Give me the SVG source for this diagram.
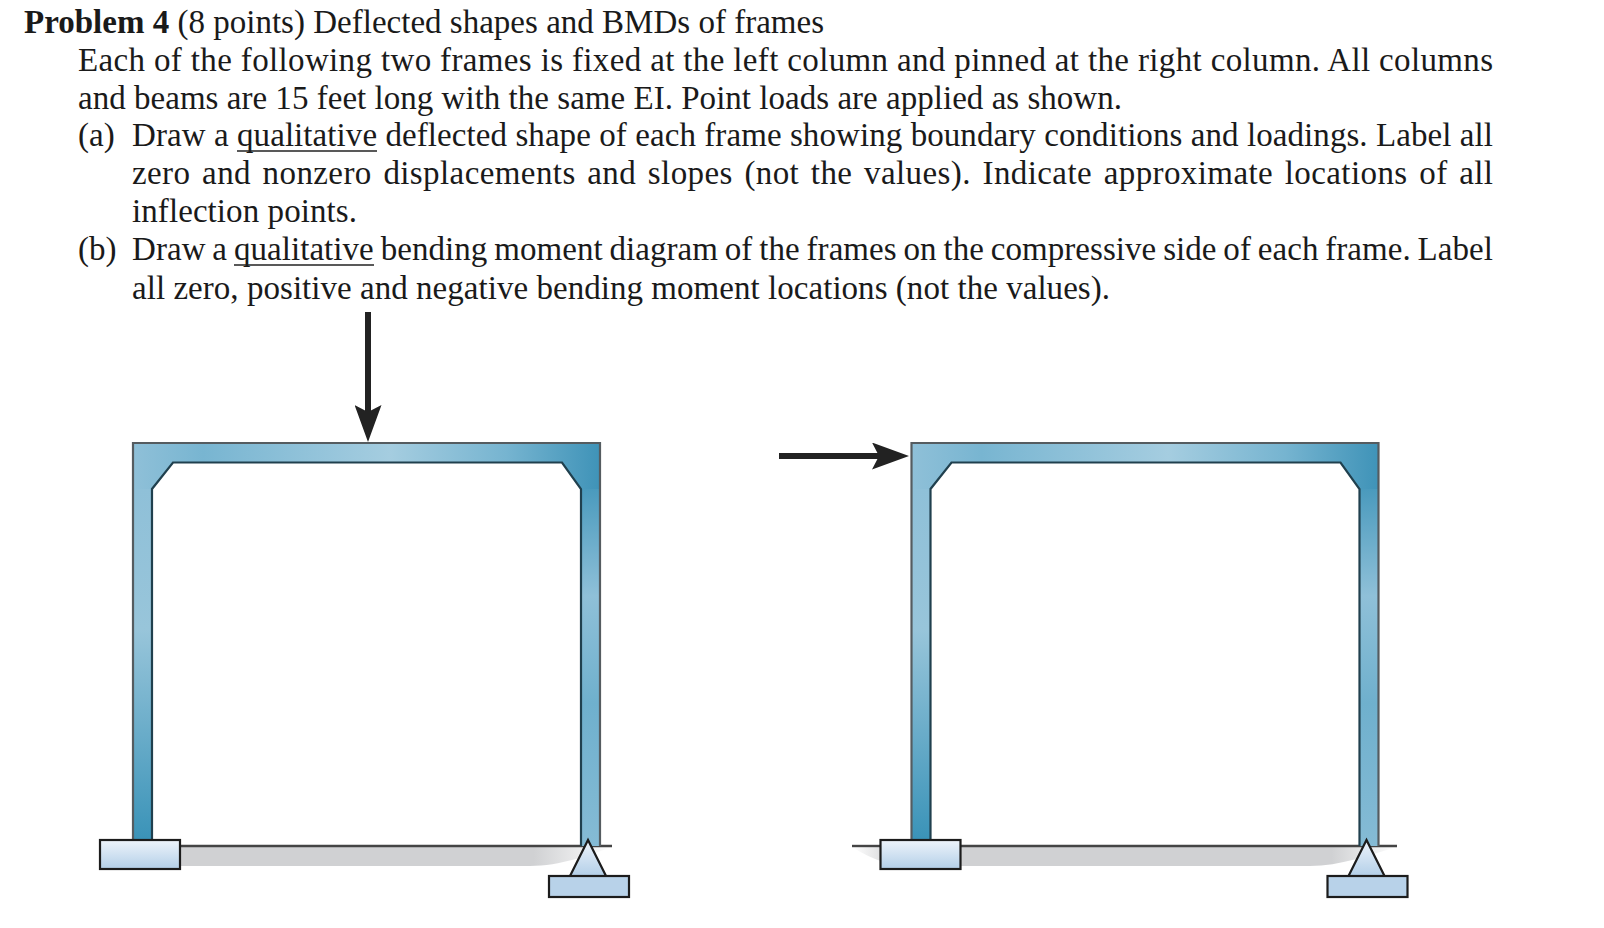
<svg xmlns="http://www.w3.org/2000/svg" width="1604" height="928" viewBox="0 0 1604 928">
<style>
text{font-family:"Liberation Serif",serif;font-size:33px;fill:#1a1a1a}
.b{font-weight:bold}
.u{stroke:#222;stroke-width:1.6}
.edge{fill:none;stroke:#555c60;stroke-width:2.2}
.inner{fill:none;stroke:#20404e;stroke-width:2.2}
.base{stroke:#1c1c1c;stroke-width:2.2}
.ln{stroke:#444;stroke-width:2.4;fill:none}
.load{stroke:#222;stroke-width:6;fill:none;marker-end:url(#a)}
</style>
<defs>
<linearGradient id="beam" gradientUnits="userSpaceOnUse" x1="133" x2="600" y1="0" y2="0"><stop offset="0" stop-color="#8fc0d8"/><stop offset=".15" stop-color="#78b5d1"/><stop offset=".55" stop-color="#a5cde0"/><stop offset=".8" stop-color="#76b4d0"/><stop offset="1" stop-color="#3f93b8"/></linearGradient>
<linearGradient id="lc" gradientUnits="userSpaceOnUse" x1="0" x2="0" y1="489" y2="840"><stop offset="0" stop-color="#8fc0d8"/><stop offset=".4" stop-color="#98c5da"/><stop offset="1" stop-color="#3a93b8"/></linearGradient>
<linearGradient id="rc" gradientUnits="userSpaceOnUse" x1="0" x2="0" y1="489" y2="846"><stop offset="0" stop-color="#4a9abd"/><stop offset=".3" stop-color="#8fc0d8"/><stop offset=".6" stop-color="#6fb0cd"/><stop offset="1" stop-color="#85bbd5"/></linearGradient>
<linearGradient id="blue" x1="0" x2="0" y1="0" y2="1"><stop offset="0" stop-color="#eef4fb"/><stop offset="1" stop-color="#b3cfe8"/></linearGradient>
<linearGradient id="shr" x1="0" x2="1" y1="0" y2="0"><stop offset="0" stop-color="#d0d1d3"/><stop offset=".82" stop-color="#d0d1d3"/><stop offset="1" stop-color="#ffffff"/></linearGradient>
<linearGradient id="shb" x1="0" x2="1" y1="0" y2="0"><stop offset="0" stop-color="#ffffff"/><stop offset=".08" stop-color="#d0d1d3"/><stop offset=".88" stop-color="#d0d1d3"/><stop offset="1" stop-color="#ffffff"/></linearGradient>
<marker id="a" markerUnits="userSpaceOnUse" markerWidth="37" markerHeight="27" refX="7" refY="13.5" orient="auto" viewBox="0 0 37 27"><path d="M0 0L37 13.5L0 27L7 13.5Z" fill="#222"/></marker>
<g id="frame">
<path d="M133 840V443H600V846H581V489L562 462.5H173L152 489V840Z" fill="url(#beam)"/>
<path d="M133 840V489H152V840Z" fill="url(#lc)"/>
<path d="M581 846V489H600V846Z" fill="url(#rc)"/>
<path d="M133 840V443H600V846" class="edge"/>
<path d="M152 840V489L173 462.5H562L581 489V846" class="inner"/>
<path d="M570 876L588 840L606 876Z" fill="url(#blue)" class="base"/>
<rect x="549" y="876" width="80" height="21" fill="#b8d2e9" class="base"/>
</g>
</defs>
<rect width="1604" height="928" fill="#fff"/>
<g id="text">
<text x="24" y="32.500" textLength="800"><tspan class="b">Problem 4</tspan> (8 points) Deflected shapes and BMDs of frames</text>
<text x="78" y="70.500" textLength="1415">Each of the following two frames is fixed at the left column and pinned at the right column. All columns</text>
<text x="78" y="108.500" textLength="1044">and beams are 15 feet long with the same EI. Point loads are applied as shown.</text>
<text x="78" y="146">(a)</text><text x="132" y="146" textLength="1361">Draw a qualitative deflected shape of each frame showing boundary conditions and loadings. Label all</text>
<text x="132" y="184" textLength="1361" word-spacing="3">zero and nonzero displacements and slopes (not the values). Indicate approximate locations of all</text>
<text x="132" y="222" textLength="225">inflection points.</text>
<text x="78" y="260">(b)</text><text x="132" y="260" textLength="1361" word-spacing="-1.500">Draw a qualitative bending moment diagram of the frames on the compressive side of each frame. Label</text>
<text x="132" y="298.500" textLength="978">all zero, positive and negative bending moment locations (not the values).</text>
<line class="u" x1="237" y1="151" x2="377" y2="151"/>
<line class="u" x1="234" y1="265" x2="374" y2="265"/>
</g>
<g id="frame-1">
<path d="M177 847H612C590 855 560 866 530 866H177Z" fill="url(#shr)"/>
<line class="ln" x1="180" y1="846" x2="612" y2="846"/>
<use href="#frame"/>
<rect x="100" y="840" width="80" height="29" fill="url(#blue)" class="base"/>
</g>
<g id="frame-2">
<path d="M852 847C865 855 885 866 910 866H1310C1340 866 1370 855 1397 847Z" fill="url(#shb)"/>
<line class="ln" x1="852" y1="846" x2="881" y2="846"/>
<line class="ln" x1="960" y1="846" x2="1397" y2="846"/>
<use href="#frame" x="778.500"/>
<rect x="880.500" y="840" width="80" height="29" fill="url(#blue)" class="base"/>
</g>
<g id="connectors">
<line class="load" x1="368" y1="312" x2="368" y2="412"/>
<line class="load" x1="779" y1="456" x2="879" y2="456"/>
</g>
</svg>
